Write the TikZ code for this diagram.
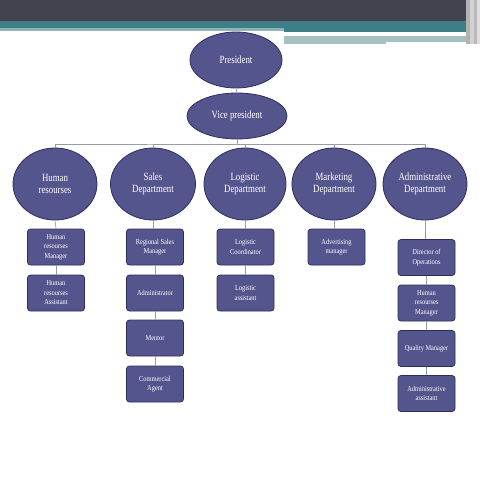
\documentclass[tikz,border=0pt]{standalone}
\usepackage{fontspec}
\setmainfont{Liberation Serif}
\newfontfamily\narrowserif[FakeStretch=0.8]{Liberation Serif}
\newfontfamily\boxserif[FakeStretch=0.85]{Liberation Serif}
\definecolor{banner}{HTML}{43424F}
\definecolor{tealA}{HTML}{3E7E86}
\definecolor{tealB}{HTML}{8FB4B8}
\definecolor{tealC}{HTML}{A5BFC2}
\definecolor{nodefill}{HTML}{55558E}
\definecolor{nodeline}{HTML}{2E2E5C}
\definecolor{conn}{HTML}{9A9AA8}
\tikzset{
  ell/.style={ellipse, draw=nodeline, line width=0.8pt, fill=nodefill, text=white,
    align=center, inner sep=0pt, font=\narrowserif\fontsize{11}{12.5}\selectfont},
  rbox/.style={rectangle, rounded corners=3pt, draw=nodeline, line width=0.8pt, fill=nodefill,
    text=white, align=center, minimum width=57pt, minimum height=36pt, inner sep=1pt,
    font=\boxserif\fontsize{7.5}{9.5}\selectfont},
  link/.style={draw=conn, line width=0.7pt}
}
\usetikzlibrary{shapes.geometric}
\begin{document}
\begin{tikzpicture}[x=1pt,y=-1pt]
\useasboundingbox (0,0) rectangle (480,480);
\fill[white] (0,0) rectangle (480,480);
% banner
\fill[banner] (0,0) rectangle (466,21);
\fill[tealA] (0,21) rectangle (466,28);
\fill[tealB] (0,28) rectangle (284,31);
\fill[tealA] (284,28) rectangle (466,32);
\fill[tealC] (284,36) rectangle (466,42);
\fill[white] (284,34) rectangle (445,35.5);
\fill[tealC] (284,42) rectangle (386,44);
\fill[gray!60] (466,0) rectangle (470,44);
\fill[gray!35] (470,0) rectangle (474,44);
\fill[gray!55] (474,0) rectangle (477,44);
\fill[gray!25] (477,0) rectangle (480,44);
% nodes
\node[ell, minimum width=92pt, minimum height=56pt] (pres) at (236,60) {President};
\node[ell, minimum width=100pt, minimum height=46pt] (vp) at (237,116) {Vice president};
\coordinate (bus) at (237,144);
\node[ell, minimum width=84pt, minimum height=72pt] (hr) at (55,184) {Human\\resourses};
\node[ell, minimum width=85pt, minimum height=72pt] (sales) at (153,184) {Sales\\Department};
\node[ell, minimum width=82pt, minimum height=72pt] (log) at (245,184) {Logistic\\Department};
\node[ell, minimum width=84pt, minimum height=72pt] (mkt) at (334,184) {Marketing\\Department};
\node[ell, minimum width=84pt, minimum height=72pt] (adm) at (425,184) {Administrative\\Department};
% boxes
\node[rbox] (hr1) at (56,247) {Human\\resourses\\Manager};
\node[rbox] (hr2) at (56,293) {Human\\resourses\\Assistant};
\node[rbox] (s1) at (155,247) {Regional Sales\\Manager};
\node[rbox] (s2) at (155,293) {Administrator};
\node[rbox] (s3) at (155,338) {Mentor};
\node[rbox] (s4) at (155,384) {Commercial\\Agent};
\node[rbox] (l1) at (245.5,247) {Logistic\\Coordinator};
\node[rbox] (l2) at (245.5,293) {Logistic\\assistant};
\node[rbox] (m1) at (336.5,247) {Advertising\\manager};
\node[rbox] (a1) at (426.5,257.5) {Director of\\Operations};
\node[rbox] (a2) at (426.5,303) {Human\\resourses\\Manager};
\node[rbox] (a3) at (426.5,348.5) {Quality Manager};
\node[rbox] (a4) at (426.5,393.5) {Administrative\\assistant};
% connectors
\begin{scope}[on background layer/.try]
\end{scope}
\draw[link] (pres.south) -- (vp.north);
\draw[link] (vp.south) -- (bus);
\draw[link] (hr.north) |- (bus) -| (adm.north);
\draw[link] (sales.north) |- (bus);
\draw[link] (log.north) |- (bus);
\draw[link] (mkt.north) |- (bus);
\draw[link] (hr.south) -- (hr1.north);
\draw[link] (hr1.south) -- (hr2.north);
\draw[link] (sales.south) -- (sales.south |- s1.north);
\draw[link] (s1.south) -- (s2.north);
\draw[link] (s2.south) -- (s3.north);
\draw[link] (s3.south) -- (s4.north);
\draw[link] (log.south) -- (log.south |- l1.north);
\draw[link] (l1.south) -- (l2.north);
\draw[link] (mkt.south) -- (mkt.south |- m1.north);
\draw[link] (adm.south) -- (adm.south |- a1.north);
\draw[link] (a1.south) -- (a2.north);
\draw[link] (a2.south) -- (a3.north);
\draw[link] (a3.south) -- (a4.north);
\end{tikzpicture}
\end{document}
